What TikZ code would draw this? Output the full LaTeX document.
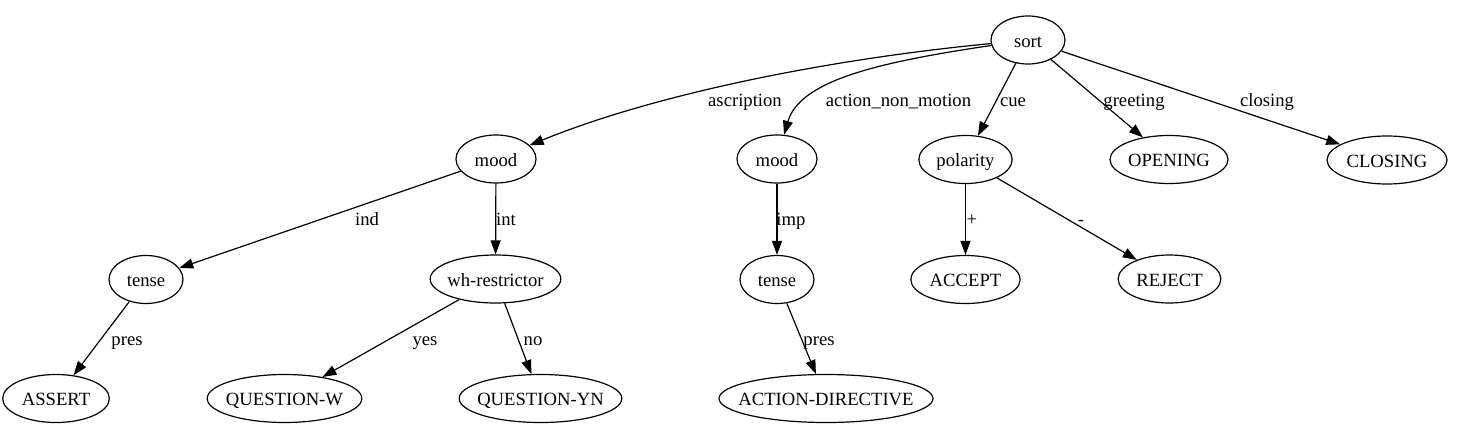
\documentclass[tikz,border=0pt]{standalone}
\usepackage{fontspec}
\setmainfont{Liberation Serif}
\usetikzlibrary{shapes.geometric,arrows.meta}
\newcommand\tx[1]{\makebox[0pt]{#1}}
\begin{document}
\begin{tikzpicture}[x=0.75pt,y=-0.75pt,
  nd/.style={ellipse, draw, line width=0.9pt, minimum height=36pt, inner sep=0pt,
    text height=10.5pt, text depth=0pt, font=\fontsize{14}{16}\selectfont},
  lbl/.style={anchor=base, inner sep=0pt, font=\fontsize{14}{16}\selectfont},
  conn/.style={draw, line width=0.9pt, -{Triangle[length=10.5pt,width=7.5pt]}}]
\fill[white] (0,0) rectangle (1457,439);
% nodes
\node[nd, minimum width=55.5pt] (sort) at (1028,40) {\tx{sort}};
\node[nd, minimum width=60pt] (mood1) at (496,159) {\tx{mood}};
\node[nd, minimum width=60pt] (mood2) at (777,159) {\tx{mood}};
\node[nd, minimum width=70pt] (polarity) at (965.5,159.5) {\tx{polarity}};
\node[nd, minimum width=88.5pt] (opening) at (1169,159.5) {\tx{OPENING}};
\node[nd, minimum width=90pt] (closing) at (1387,160) {\tx{CLOSING}};
\node[nd, minimum width=55.5pt] (tense1) at (146,279.5) {\tx{tense}};
\node[nd, minimum width=98pt] (wh) at (495.5,279) {\tx{wh-restrictor}};
\node[nd, minimum width=55.5pt] (tense2) at (777,279.5) {\tx{tense}};
\node[nd, minimum width=82pt] (accept) at (965.5,279.5) {\tx{ACCEPT}};
\node[nd, minimum width=77pt] (reject) at (1169.5,279) {\tx{REJECT}};
\node[nd, minimum width=80pt] (assert) at (56,398.5) {\tx{ASSERT}};
\node[nd, minimum width=116pt] (qw) at (284.5,398.5) {\tx{QUESTION-W}};
\node[nd, minimum width=122pt] (qyn) at (540.5,398.5) {\tx{QUESTION-YN}};
\node[nd, minimum width=160.5pt] (ad) at (826,398.5) {\tx{ACTION-DIRECTIVE}};
% connectors
\path[conn] (sort) .. controls (820,60) and (650,96) .. (mood1);
\path[conn] (sort) .. controls (880,62) and (800,80) .. (mood2);
\path[conn] (sort) -- (polarity);
\path[conn] (sort) -- (opening);
\path[conn] (sort) -- (closing);
\path[conn] (mood1) -- (tense1);
\path[conn] (mood1) -- (wh);
\path[conn] (mood2) -- (tense2);
\path[conn] (polarity) -- (accept);
\path[conn] (polarity) -- (reject);
\path[conn] (tense1) -- (assert);
\path[conn] (wh) -- (qw);
\path[conn] (wh) -- (qyn);
\path[conn] (tense2) -- (ad);
% labels
\node[lbl] (l1) at (745,106) {ascription};
\node[lbl] (l2) at (898.5,106) {action\_non\_motion};
\node[lbl] (l3) at (1013,106) {cue};
\node[lbl] (l4) at (1134,106) {greeting};
\node[lbl] (l5) at (1267,106) {closing};
\node[lbl] (l6) at (367,225) {ind};
\node[lbl] (l7) at (506,225) {int};
\node[lbl] (l8) at (791,225) {imp};
\node[lbl] (l9) at (972,225) {+};
\node[lbl] (l10) at (1081,225) {-};
\node[lbl] (l11) at (127,345) {pres};
\node[lbl] (l12) at (425,345) {yes};
\node[lbl] (l13) at (533,345) {no};
\node[lbl] (l14) at (819,345) {pres};
\end{tikzpicture}
\end{document}
